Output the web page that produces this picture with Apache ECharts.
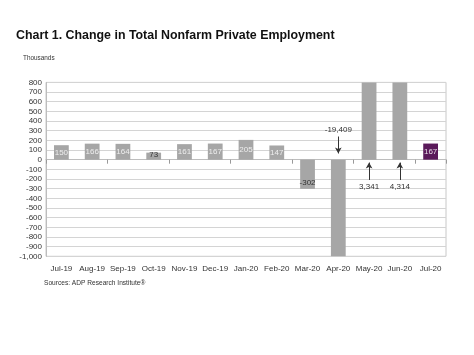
<!DOCTYPE html>
<html><head><meta charset="utf-8">
<script src="https://cdn.jsdelivr.net/npm/echarts@6/dist/echarts.min.js"></script>
<style>html,body{margin:0;padding:0;background:#fff}#c{width:474px;height:355px}</style>
</head><body><div id="c"></div>
<script>
var categories = ['Jul-19','Aug-19','Sep-19','Oct-19','Nov-19','Dec-19','Jan-20','Feb-20','Mar-20','Apr-20','May-20','Jun-20','Jul-20'];
var values = [150, 166, 164, 73, 161, 167, 205, 147, -302, -19409, 3341, 4314, 167];
var yTicks = [-1000, 800, 100];
var AXIS_MIN = yTicks[0], AXIS_MAX = yTicks[1];

function fmt(v){ return v.toLocaleString('en-US'); }

var data = values.map(function(v, i){
  var shown = Math.max(AXIS_MIN, Math.min(AXIS_MAX, v));
  var item = { value: shown, real: v };
  var last = i === values.length - 1;
  item.itemStyle = { color: last ? '#5a1a5a' : '#a6a6a6' };
  if (v > AXIS_MAX || v < AXIS_MIN) {
    item.label = { show: false };
  } else if (v < 0) {
    item.label = { show: true, position: 'insideBottom', distance: 2, color: '#333' };
  } else if (v < 100) {
    item.label = { show: true, position: 'top', distance: -6, color: '#333' };
  } else {
    item.label = { show: true, position: 'inside', color: last ? '#e6dce6' : '#eeeeee' };
  }
  return item;
});

var chart = echarts.init(document.getElementById('c'), null, {renderer:'canvas'});
chart.setOption({
  animation: false,
  backgroundColor: '#fff',
  textStyle: { fontFamily: 'Liberation Sans, Arial, sans-serif' },
  graphic: [
    { type: 'text', left: 16, top: 30, style: { text: 'Chart 1. Change in Total Nonfarm Private Employment', font: 'bold 12.4px Liberation Sans, Arial, sans-serif', fill: '#111' } },
    { type: 'text', left: 23, top: 55.5, style: { text: 'Thousands', font: '6.4px Liberation Sans, Arial, sans-serif', fill: '#333' } },
    { type: 'text', left: 44, top: 279.5, style: { text: 'Sources: ADP Research Institute\u00ae', font: '6.6px Liberation Sans, Arial, sans-serif', fill: '#333' } }
  ],
  grid: { left: 46, right: 28, top: 82.4, bottom: 98.7, show: true, borderColor: '#c8c8c8', borderWidth: 1 },
  xAxis: [
    { type: 'category', data: categories, position: 'bottom',
      axisLine: { show: false, onZero: false }, axisTick: { show: false },
      axisLabel: { fontSize: 8, color: '#333', margin: 8, interval: 0 } },
    { type: 'category', data: categories, position: 'top',
      axisLine: { show: true, onZero: true, lineStyle: { color: '#bdbdbd', width: 1 } },
      axisTick: { show: true, inside: true, length: 4, lineStyle: { color: '#999' } },
      axisLabel: { show: false } }
  ],
  yAxis: {
    type: 'value', min: AXIS_MIN, max: AXIS_MAX, interval: yTicks[2],
    axisLine: { show: true, lineStyle: { color: '#bdbdbd' } },
    axisTick: { show: false },
    axisLabel: { fontSize: 8, color: '#333', margin: 4, formatter: function(v){ return fmt(v); } },
    splitLine: { lineStyle: { color: '#d4d4d4', width: 1 } }
  },
  series: [{
    type: 'bar', xAxisIndex: 0, data: data, barWidth: '48%',
    label: { show: true, fontSize: 8, formatter: function(p){ return fmt(p.data.real); } },
    markLine: {
      silent: true,
      symbol: ['none', 'arrow'], symbolSize: [5, 6],
      lineStyle: { color: '#333', width: 1, type: 'solid' },
      label: { show: true, position: 'start', fontSize: 8, color: '#333', distance: 3 },
      data: [
        [ { coord: ['Apr-20', 240], label: { formatter: fmt(values[9]) } }, { coord: ['Apr-20', 65] } ],
        [ { coord: ['May-20', -210], label: { formatter: fmt(values[10]) } }, { coord: ['May-20', -30] } ],
        [ { coord: ['Jun-20', -210], label: { formatter: fmt(values[11]) } }, { coord: ['Jun-20', -30] } ]
      ]
    }
  }]
});
</script></body></html>
